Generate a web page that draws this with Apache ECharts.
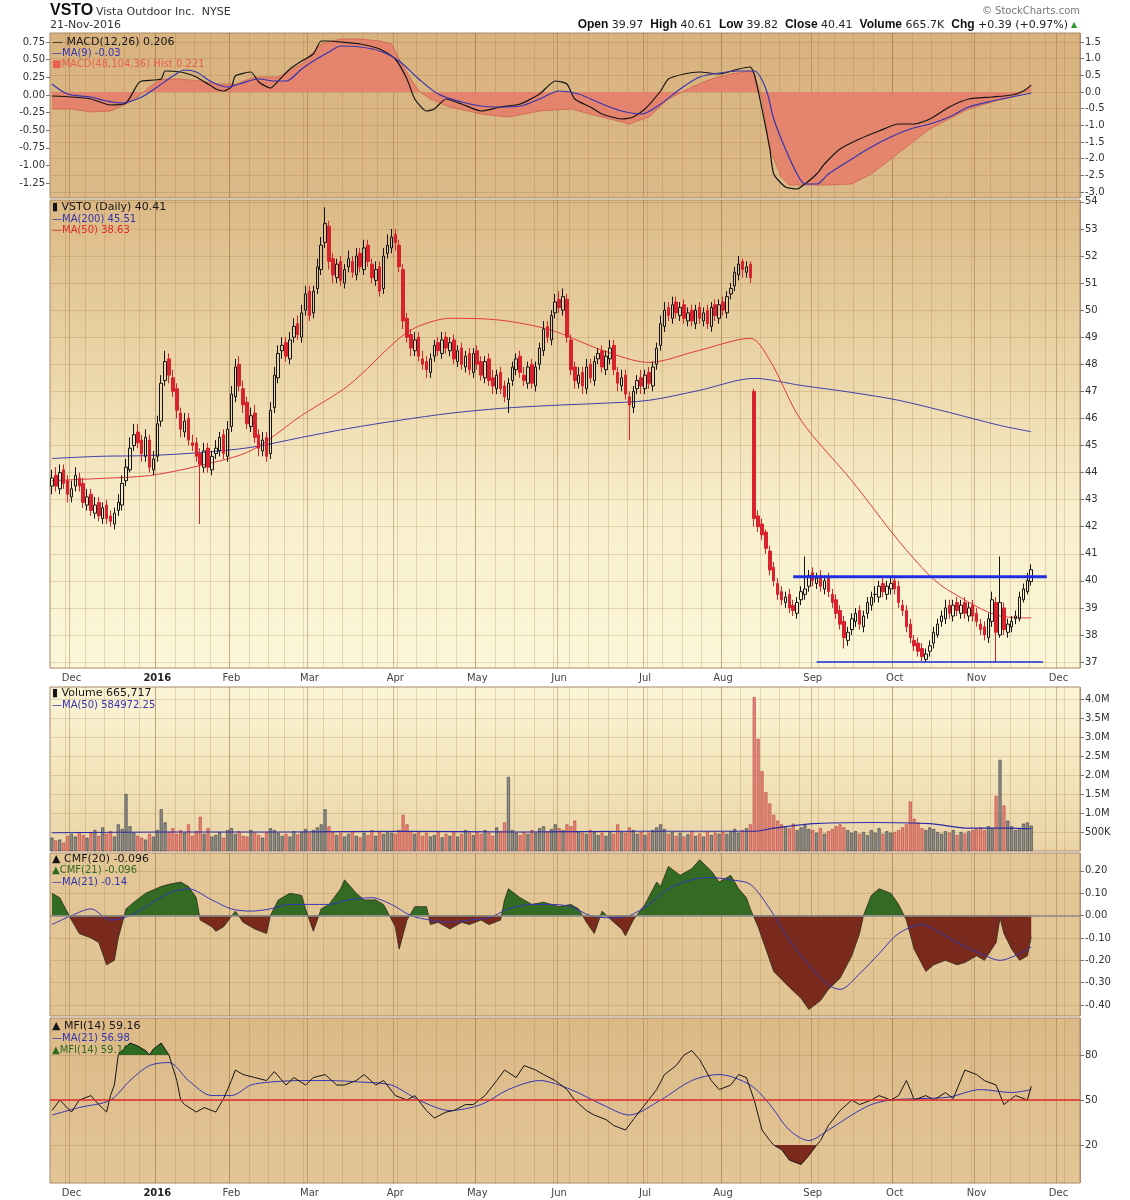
<!DOCTYPE html>
<html>
<head>
<meta charset="utf-8">
<script src="https://cdn.jsdelivr.net/npm/echarts@6/dist/echarts.min.js"></script>
<style>
  html, body { margin: 0; background: #fff; }
  #chart { width: 1130px; height: 1200px; }
</style>
</head>
<body>
<div id="chart"></div>
<script>
// ---- trading calendar (Nov 23 2015 .. Dec 8 2016, 12 empty slots after the last bar)
const holidays = ['2015-11-26', '2015-12-25', '2016-01-01', '2016-01-18', '2016-02-15',
  '2016-03-25', '2016-05-30', '2016-07-04', '2016-09-05', '2016-11-24'];
const monthNames = ['Jan', 'Feb', 'Mar', 'Apr', 'May', 'Jun', 'Jul', 'Aug', 'Sep', 'Oct', 'Nov', 'Dec'];

// ---- daily bars, one line per month (Nov-15 .. Nov-16)
const opens = [
  43.5, 43.9, 43.4, 44.1, 43.7,
  43.1, 43.5, 43.8, 43.6, 42.8, 43.2, 42.5, 42.9, 42.3, 42.8, 42.4, 42.1, 42.6, 42.8, 43.7, 44.1, 45.0, 45.5, 45.2, 44.6, 45.2, 44.1,
  44.6, 45.9, 47.4, 48.2, 47.5, 47.1, 46.2, 45.5, 46.0, 45.1, 45.1, 44.7, 44.2, 44.9, 44.1, 44.7, 44.8, 45.4, 44.6,
  45.7, 46.8, 48.0, 47.1, 46.6, 45.7, 46.2, 45.4, 44.8, 45.3, 44.7, 46.4, 47.5, 48.5, 48.8, 48.2, 49.0, 49.5, 49.0, 50.0,
  50.7, 49.9, 50.8, 51.5, 52.5, 53.1, 51.9, 51.2, 51.8, 51.0, 51.6, 51.8, 51.3, 52.1, 51.5, 52.4, 51.7, 51.1, 51.6, 50.8, 52.1, 52.3,
  52.8, 52.4, 51.5, 49.7, 49.1, 48.5, 49.0, 48.2, 48.1, 47.7, 48.3, 48.8, 48.4, 49.0, 48.5, 48.9, 48.1, 48.6, 47.9, 48.4, 47.7,
  48.5, 48.1, 47.5, 48.2, 47.5, 47.1, 47.7, 47.2, 46.7, 47.4, 47.8, 48.3, 47.6, 47.3, 48.0, 47.2, 48.0, 48.5, 49.4, 48.9, 49.9,
  50.4, 50.0, 50.4, 48.9, 47.9, 47.3, 47.7, 47.1, 48.0, 47.4, 48.2, 48.5, 47.8, 48.2, 48.7, 47.7, 47.2, 47.6, 46.8, 46.4, 47.1, 47.5,
  47.1, 47.7, 47.2, 48.0, 48.7, 49.4, 50.1, 49.7, 50.3, 49.8, 50.2, 49.6, 50.0, 49.5, 50.1, 49.6, 50.0, 49.4, 50.2, 49.7,
  50.3, 49.9, 50.6, 50.9, 51.3, 51.8, 51.4, 51.7, 47.0, 42.4, 42.1, 41.8, 41.1, 40.5, 39.9, 39.6, 39.2, 39.5, 39.1, 38.8, 39.3, 39.5, 39.8,
  40.3, 39.9, 40.2, 39.7, 40.1, 39.5, 39.3, 38.9, 38.5, 37.8, 38.2, 38.5, 38.9, 38.3, 38.8, 39.1, 39.5, 39.4, 39.9, 39.5, 39.7,
  40.0, 39.8, 39.1, 38.9, 38.4, 37.8, 37.7, 37.5, 37.1, 37.4, 37.7, 38.0, 38.5, 38.6, 39.1, 38.7, 39.2, 38.8, 39.2, 38.7, 39.1,
  38.8, 38.4, 38.3, 37.9, 38.5, 39.2, 38.0, 39.0, 38.1, 38.3, 38.6, 38.6, 39.3, 39.6, 39.97
];
const closes = [
  43.8, 43.5, 44.0, 43.6, 43.2,
  43.4, 43.9, 43.5, 42.9, 43.1, 42.6, 42.8, 42.4, 42.7, 42.3, 42.2, 42.5, 42.9, 43.6, 44.2, 44.9, 45.4, 45.1, 44.7, 45.3, 44.2, 44.5,
  45.8, 47.3, 48.1, 47.6, 47.0, 46.3, 45.6, 45.9, 45.2, 45.0, 44.6, 44.3, 44.8, 44.2, 44.6, 44.9, 45.3, 44.7, 45.6,
  46.9, 47.9, 47.2, 46.5, 45.8, 46.1, 45.3, 44.9, 45.2, 44.6, 46.3, 47.6, 48.4, 48.7, 48.3, 48.9, 49.4, 49.1, 49.9, 50.6,
  49.8, 50.7, 51.6, 52.4, 53.2, 51.8, 51.3, 51.7, 51.1, 51.5, 51.9, 51.4, 52.0, 51.6, 52.3, 51.8, 51.2, 51.5, 50.7, 52.0, 52.4, 52.7,
  52.5, 51.6, 49.6, 49.0, 48.6, 48.9, 48.3, 48.0, 47.8, 48.2, 48.7, 48.5, 48.9, 48.6, 48.8, 48.2, 48.5, 48.0, 48.3, 47.8, 48.4,
  48.0, 47.6, 48.1, 47.4, 47.2, 47.6, 47.1, 46.8, 47.3, 47.9, 48.2, 47.7, 47.4, 47.9, 47.3, 47.9, 48.6, 49.3, 49.0, 49.8, 50.3,
  50.1, 50.5, 49.0, 47.8, 47.4, 47.6, 47.2, 47.9, 47.5, 48.1, 48.4, 47.9, 48.3, 48.6, 47.8, 47.3, 47.5, 46.9, 46.5, 47.0, 47.4, 47.2,
  47.6, 47.3, 47.9, 48.6, 49.5, 50.0, 49.8, 50.2, 49.9, 50.1, 49.7, 49.9, 49.6, 50.0, 49.7, 49.9, 49.5, 50.1, 49.8, 50.2,
  50.0, 50.5, 50.8, 51.4, 51.7, 51.5, 51.6, 51.2, 42.3, 42.0, 41.7, 41.2, 40.4, 40.0, 39.5, 39.3, 39.4, 39.0, 38.9, 39.2, 39.6, 39.7, 40.2,
  40.0, 40.1, 39.8, 40.0, 39.6, 39.2, 38.8, 38.4, 37.9, 38.1, 38.6, 38.8, 38.4, 38.7, 39.2, 39.4, 39.5, 39.8, 39.6, 39.8, 39.9,
  39.7, 39.2, 38.9, 38.3, 37.9, 37.6, 37.4, 37.2, 37.3, 37.6, 38.1, 38.4, 38.7, 39.0, 38.8, 39.1, 38.9, 39.1, 38.8, 39.0, 38.7,
  38.5, 38.2, 38.0, 38.6, 39.3, 38.1, 39.2, 38.2, 38.4, 38.5, 38.7, 39.4, 39.7, 40.02, 40.41
];
const highs = [
  44.1, 44.2, 44.3, 44.3, 43.9,
  43.7, 44.2, 44.0, 43.8, 43.4, 43.4, 43.1, 43.1, 42.9, 43.0, 42.6, 42.7, 43.2, 43.9, 44.5, 45.3, 45.8, 45.8, 45.4, 45.6, 45.4, 44.8,
  46.1, 47.6, 48.5, 48.4, 47.8, 47.3, 46.4, 46.2, 46.2, 45.4, 45.3, 44.9, 45.1, 45.1, 44.8, 45.2, 45.5, 45.6, 45.9,
  47.2, 48.2, 48.3, 47.4, 46.8, 46.4, 46.5, 45.6, 45.5, 45.5, 46.6, 47.9, 48.7, 49.0, 49.0, 49.2, 49.7, 49.8, 50.2, 50.9,
  50.9, 50.9, 51.9, 52.7, 53.8, 53.3, 52.1, 51.9, 52.0, 51.7, 52.2, 52.0, 52.3, 52.3, 52.6, 52.6, 51.9, 51.8, 51.8, 52.3, 52.8, 53.0,
  53.0, 52.6, 51.7, 49.9, 49.3, 49.2, 49.2, 48.5, 48.3, 48.4, 48.9, 49.0, 49.2, 49.2, 49.0, 49.1, 48.7, 48.8, 48.5, 48.6, 48.6,
  48.7, 48.3, 48.3, 48.4, 47.8, 47.8, 47.9, 47.4, 47.5, 48.1, 48.4, 48.5, 47.9, 48.1, 48.2, 48.1, 48.8, 49.6, 49.6, 50.0, 50.6,
  50.7, 50.8, 50.6, 49.1, 48.1, 47.9, 47.9, 48.2, 48.2, 48.3, 48.6, 48.7, 48.5, 48.9, 48.9, 47.9, 47.8, 47.8, 47.0, 47.2, 47.6, 47.8,
  47.8, 47.9, 48.1, 48.8, 49.8, 50.3, 50.3, 50.5, 50.5, 50.3, 50.4, 50.1, 50.2, 50.2, 50.3, 50.1, 50.2, 50.3, 50.4, 50.4,
  50.5, 50.7, 51.0, 51.6, 52.0, 51.9, 51.8, 51.8, 47.1, 42.6, 42.3, 41.9, 41.3, 40.7, 40.1, 39.8, 39.6, 39.7, 39.3, 39.4, 39.8, 40.9, 40.4,
  40.5, 40.3, 40.4, 40.2, 40.3, 39.7, 39.5, 39.1, 38.7, 38.3, 38.8, 39.0, 39.1, 38.9, 39.4, 39.6, 39.8, 40.0, 40.1, 40.0, 40.1,
  40.2, 40.0, 39.3, 39.1, 38.6, 38.0, 37.9, 37.7, 37.5, 37.8, 38.3, 38.6, 38.9, 39.3, 39.3, 39.3, 39.4, 39.3, 39.4, 39.2, 39.3,
  39.0, 38.6, 38.5, 38.8, 39.6, 39.4, 40.9, 39.2, 38.6, 38.7, 38.9, 39.6, 39.9, 40.3, 40.61
];
const lows = [
  43.2, 43.3, 43.2, 43.4, 42.9,
  42.9, 43.3, 43.3, 42.7, 42.6, 42.4, 42.3, 42.2, 42.1, 42.1, 42.0, 41.9, 42.4, 42.6, 43.5, 44.0, 44.8, 44.9, 44.4, 44.4, 44.0, 43.9,
  44.4, 45.7, 47.2, 47.3, 46.8, 46.0, 45.3, 45.3, 45.0, 44.8, 44.4, 42.1, 44.0, 44.0, 43.9, 44.5, 44.6, 44.5, 44.4,
  45.5, 46.6, 47.0, 46.2, 45.6, 45.5, 45.1, 44.6, 44.6, 44.4, 44.5, 46.2, 47.3, 48.2, 48.1, 48.0, 48.8, 48.9, 48.8, 49.8,
  49.6, 49.7, 50.6, 51.3, 52.3, 51.5, 51.0, 51.0, 50.9, 50.8, 51.4, 51.2, 51.1, 51.4, 51.3, 51.6, 51.0, 50.9, 50.5, 50.6, 51.9, 52.1,
  52.2, 51.4, 49.3, 48.8, 48.3, 48.3, 48.1, 47.8, 47.5, 47.5, 48.1, 48.3, 48.2, 48.4, 48.3, 48.0, 47.9, 47.8, 47.7, 47.6, 47.5,
  47.8, 47.4, 47.3, 47.2, 46.9, 46.9, 46.9, 46.6, 46.2, 47.2, 47.6, 47.5, 47.2, 47.1, 47.1, 47.0, 47.8, 48.3, 48.8, 48.7, 49.7,
  49.9, 49.8, 48.8, 47.6, 47.1, 47.1, 46.9, 46.9, 47.3, 47.2, 48.0, 47.7, 47.6, 48.0, 47.6, 47.0, 47.0, 46.7, 45.2, 46.2, 46.9, 46.9,
  46.9, 47.1, 47.0, 47.8, 48.5, 49.2, 49.6, 49.5, 49.7, 49.6, 49.5, 49.4, 49.4, 49.3, 49.5, 49.4, 49.3, 49.2, 49.6, 49.5,
  49.8, 49.7, 50.4, 50.7, 51.1, 51.2, 51.2, 51.0, 42.0, 41.8, 41.5, 41.0, 40.2, 39.8, 39.3, 39.1, 39.0, 38.8, 38.7, 38.6, 39.1, 39.3, 39.6,
  39.8, 39.7, 39.6, 39.5, 39.4, 39.0, 38.6, 38.2, 37.5, 37.6, 38.0, 38.3, 38.2, 38.1, 38.6, 38.9, 39.2, 39.2, 39.4, 39.3, 39.5,
  39.5, 39.0, 38.7, 38.1, 37.7, 37.4, 37.2, 37.0, 37.0, 37.2, 37.5, 37.9, 38.3, 38.4, 38.6, 38.5, 38.7, 38.6, 38.6, 38.5, 38.5,
  38.3, 38.0, 37.8, 37.7, 38.3, 37.0, 37.9, 38.0, 37.9, 38.1, 38.4, 38.5, 39.2, 39.5, 39.82
];
// volume in millions of shares
const volumes = [
  0.35, 0.28, 0.30, 0.22, 0.40,
  0.45, 0.38, 0.50, 0.42, 0.35, 0.48, 0.55, 0.40, 0.62, 0.45, 0.52, 0.38, 0.70, 0.58, 1.50, 0.65, 0.48, 0.40, 0.35, 0.30, 0.45, 0.38,
  0.55, 1.10, 0.75, 0.50, 0.60, 0.45, 0.55, 0.48, 0.70, 0.40, 0.52, 0.90, 0.45, 0.60, 0.38, 0.42, 0.50, 0.35, 0.55,
  0.60, 0.45, 0.52, 0.40, 0.38, 0.55, 0.48, 0.42, 0.35, 0.50, 0.60, 0.55, 0.48, 0.40, 0.45, 0.38, 0.52, 0.44, 0.50, 0.58,
  0.48, 0.55, 0.62, 0.70, 1.10, 0.65, 0.50, 0.42, 0.48, 0.38, 0.45, 0.52, 0.40, 0.36, 0.48, 0.42, 0.55, 0.40, 0.50, 0.45, 0.52, 0.48,
  0.45, 0.55, 0.95, 0.70, 0.52, 0.45, 0.50, 0.40, 0.48, 0.38, 0.42, 0.50, 0.36, 0.45, 0.40, 0.52, 0.38, 0.45, 0.55, 0.48, 0.42,
  0.50, 0.45, 0.55, 0.48, 0.40, 0.62, 0.52, 0.75, 1.95, 0.55, 0.48, 0.42, 0.50, 0.45, 0.55, 0.48, 0.60, 0.65, 0.52, 0.58, 0.70,
  0.60, 0.55, 0.70, 0.65, 0.80, 0.52, 0.48, 0.45, 0.55, 0.50, 0.42, 0.48, 0.40, 0.52, 0.45, 0.70, 0.50, 0.48, 0.62, 0.55, 0.45, 0.50,
  0.42, 0.48, 0.55, 0.62, 0.70, 0.58, 0.45, 0.50, 0.40, 0.48, 0.38, 0.44, 0.52, 0.40, 0.46, 0.38, 0.50, 0.42, 0.48, 0.45,
  0.50, 0.45, 0.52, 0.58, 0.48, 0.55, 0.60, 0.70, 4.05, 2.95, 2.10, 1.55, 1.25, 0.95, 0.80, 0.70, 0.65, 0.60, 0.72, 0.55, 0.62, 0.68, 0.58,
  0.55, 0.48, 0.60, 0.45, 0.52, 0.58, 0.65, 0.70, 0.62, 0.55, 0.48, 0.52, 0.45, 0.50, 0.42, 0.55, 0.48, 0.60, 0.45, 0.52, 0.48,
  0.50, 0.55, 0.62, 0.70, 1.30, 0.85, 0.75, 0.60, 0.55, 0.62, 0.58, 0.50, 0.45, 0.52, 0.48, 0.55, 0.42, 0.50, 0.46, 0.52, 0.55,
  0.58, 0.62, 0.55, 0.65, 0.60, 1.45, 2.40, 1.20, 0.80, 0.65, 0.55, 0.60, 0.72, 0.75, 0.666
];

// ---- overlays and indicators: [bar index, value]
const ma200 = [[0, 44.52], [12, 44.6], [25, 44.63], [38, 44.74], [51, 44.93], [64, 45.3], [76, 45.63], [89, 45.93],
  [102, 46.19], [115, 46.37], [128, 46.48], [141, 46.56], [153, 46.67], [166, 47.04], [180, 47.48], [192, 47.22],
  [205, 46.96], [217, 46.67], [230, 46.22], [243, 45.74], [251, 45.51]];
const ma50 = [[0, 43.7], [12, 43.78], [25, 43.89], [38, 44.26], [51, 44.81], [64, 46.11], [76, 47.22], [89, 48.96],
  [94, 49.41], [102, 49.7], [115, 49.63], [128, 49.26], [141, 48.52], [153, 48.07], [166, 48.52], [179, 48.96],
  [184, 48.15], [192, 45.93], [205, 43.7], [217, 41.48], [225, 40.19], [230, 39.63], [243, 38.7], [251, 38.63]];
const resistanceLine = [[190, 40.15], [255, 40.15]];
const supportLine = [[196, 37.0], [254, 37.0]];

const macdLine = [[0, -0.12], [5, -0.15], [10, -0.21], [15, -0.39], [19, -0.33], [22, 0.24], [23, 0.33], [28, 0.39],
  [29, 0.63], [33, 0.6], [35, 0.54], [37, 0.45], [40, 0.24], [42, 0.09], [44, 0.03], [46, 0.15], [47, 0.48], [51, 0.6],
  [53, 0.3], [56, 0.12], [58, 0.33], [61, 0.69], [64, 0.93], [67, 1.14], [69, 1.53], [71, 1.53], [74, 1.5], [79, 1.44],
  [84, 1.29], [88, 0.99], [91, 0.39], [93, -0.21], [96, -0.57], [98, -0.51], [101, -0.21], [105, -0.36], [110, -0.57],
  [115, -0.45], [120, -0.36], [125, -0.06], [129, 0.33], [132, 0.24], [134, -0.21], [138, -0.45], [141, -0.66],
  [146, -0.81], [149, -0.75], [152, -0.51], [156, 0.03], [158, 0.39], [162, 0.54], [166, 0.6], [171, 0.54], [176, 0.69],
  [179, 0.75], [180, 0.54], [182, -0.51], [184, -1.71], [185, -2.46], [188, -2.85], [191, -2.91], [193, -2.76],
  [196, -2.46], [198, -2.16], [202, -1.71], [207, -1.41], [212, -1.17], [217, -0.96], [221, -0.96], [225, -0.81],
  [230, -0.45], [235, -0.21], [241, -0.15], [246, -0.09], [249, 0.03], [251, 0.206]];
const macdSignal = [[0, 0.24], [4, -0.06], [10, -0.15], [14, -0.27], [18, -0.33], [23, -0.15], [27, 0.15], [31, 0.48],
  [34, 0.66], [37, 0.6], [41, 0.3], [45, 0.15], [48, 0.24], [53, 0.39], [57, 0.33], [60, 0.33], [64, 0.69], [67, 0.93],
  [71, 1.2], [74, 1.38], [79, 1.35], [84, 1.23], [89, 0.93], [94, 0.39], [99, -0.06], [105, -0.3], [110, -0.42],
  [115, -0.45], [120, -0.42], [125, -0.21], [130, 0.03], [135, -0.06], [141, -0.36], [146, -0.57], [151, -0.66],
  [156, -0.36], [161, 0.09], [166, 0.45], [171, 0.57], [176, 0.63], [180, 0.63], [183, 0.09], [185, -0.81],
  [188, -1.71], [191, -2.46], [193, -2.76], [196, -2.76], [199, -2.46], [205, -2.01], [210, -1.65], [215, -1.35],
  [220, -1.11], [225, -0.96], [230, -0.75], [235, -0.45], [241, -0.27], [246, -0.15], [251, -0.03]];
const macdHist = [[0, -0.51], [5, -0.51], [10, -0.6], [15, -0.57], [19, -0.36], [23, -0.06], [25, 0.15], [28, 0.39],
  [33, 0.39], [38, 0.33], [42, 0.24], [47, 0.24], [52, 0.45], [58, 0.45], [64, 0.84], [69, 1.44], [74, 1.59],
  [79, 1.59], [84, 1.53], [87, 1.44], [89, 0.99], [92, 0.39], [94, 0.03], [97, -0.21], [102, -0.45], [110, -0.66],
  [117, -0.75], [125, -0.57], [133, -0.51], [141, -0.75], [148, -0.96], [153, -0.75], [158, -0.21], [164, 0.15],
  [169, 0.39], [174, 0.54], [179, 0.63], [180, 0.54], [182, -0.21], [184, -1.71], [187, -2.55], [189, -2.79],
  [199, -2.79], [205, -2.76], [210, -2.46], [215, -2.01], [220, -1.56], [225, -1.11], [230, -0.81], [235, -0.51],
  [241, -0.3], [246, -0.15], [249, 0.0], [251, 0.221]];

const volumeMA = [[0, 0.48], [30, 0.5], [60, 0.5], [90, 0.52], [120, 0.5], [150, 0.52], [180, 0.52], [185, 0.6],
  [195, 0.72], [210, 0.75], [225, 0.72], [235, 0.6], [245, 0.6], [251, 0.585]];

const cmf = [[0, 0.10], [2, 0.08], [5, -0.02], [7, -0.08], [10, -0.10], [12, -0.12], [14, -0.22], [16, -0.20],
  [17, -0.10], [19, 0.03], [21, 0.06], [24, 0.10], [28, 0.13], [30, 0.14], [33, 0.15], [35, 0.13], [37, 0.08],
  [38, -0.02], [41, -0.05], [42, -0.07], [44, -0.05], [47, 0.02], [49, -0.03], [52, -0.06], [55, -0.08], [56, 0.0],
  [58, 0.07], [61, 0.10], [64, 0.09], [65, 0.03], [67, -0.07], [69, 0.03], [71, 0.05], [74, 0.12], [75, 0.16],
  [78, 0.10], [80, 0.07], [83, 0.07], [85, 0.05], [88, -0.05], [89, -0.15], [91, -0.02], [93, 0.04], [96, 0.04],
  [97, -0.04], [99, -0.03], [102, -0.06], [105, -0.03], [107, -0.04], [110, -0.02], [112, -0.04], [115, -0.02],
  [116, 0.07], [117, 0.12], [120, 0.08], [123, 0.05], [126, 0.06], [130, 0.04], [133, 0.05], [135, 0.03],
  [137, -0.03], [139, -0.08], [141, 0.02], [144, -0.03], [146, -0.06], [147, -0.09], [149, -0.02], [152, 0.05],
  [155, 0.15], [156, 0.13], [158, 0.22], [161, 0.18], [164, 0.21], [166, 0.25], [169, 0.20], [171, 0.15],
  [174, 0.18], [176, 0.12], [178, 0.08], [179, 0.03], [181, -0.05], [183, -0.15], [185, -0.25], [189, -0.32],
  [192, -0.37], [194, -0.42], [197, -0.38], [199, -0.33], [202, -0.28], [205, -0.18], [207, -0.08], [208, 0.0],
  [210, 0.09], [212, 0.12], [215, 0.10], [217, 0.05], [219, -0.02], [221, -0.15], [224, -0.25], [226, -0.22],
  [229, -0.20], [232, -0.22], [234, -0.21], [237, -0.18], [239, -0.20], [242, -0.12], [243, -0.01], [244, -0.08],
  [246, -0.15], [248, -0.20], [250, -0.18], [251, -0.096]];
const cmfMA = [[0, -0.04], [5, 0.0], [10, 0.03], [15, -0.02], [20, 0.0], [25, 0.05], [30, 0.10], [35, 0.12],
  [41, 0.07], [46, 0.03], [51, 0.02], [56, 0.03], [61, 0.05], [66, 0.05], [71, 0.05], [76, 0.07], [82, 0.08],
  [87, 0.05], [92, 0.0], [97, -0.02], [102, -0.03], [107, -0.02], [112, -0.01], [117, 0.03], [123, 0.05],
  [128, 0.05], [133, 0.04], [138, 0.0], [143, -0.01], [148, 0.0], [153, 0.05], [158, 0.12], [164, 0.16],
  [169, 0.17], [174, 0.16], [179, 0.14], [184, 0.03], [189, -0.11], [194, -0.22], [199, -0.31], [202, -0.33],
  [207, -0.26], [212, -0.17], [217, -0.08], [223, -0.04], [228, -0.08], [233, -0.13], [238, -0.17], [243, -0.2],
  [248, -0.17], [251, -0.14]];

const mfi = [[0, 43], [2, 50], [5, 42], [7, 50], [10, 53], [12, 47], [14, 42], [15, 53], [16, 60], [17, 80],
  [18, 83], [20, 88], [22, 86], [24, 83], [25, 80], [26, 84], [28, 88], [29, 84], [30, 80], [32, 63], [33, 50],
  [34, 47], [37, 42], [39, 45], [42, 42], [44, 51], [46, 63], [47, 70], [49, 67], [52, 65], [55, 63], [57, 69],
  [60, 60], [62, 65], [65, 60], [67, 65], [70, 67], [73, 60], [75, 60], [78, 63], [80, 67], [83, 60], [85, 63],
  [88, 53], [91, 50], [93, 53], [96, 43], [98, 38], [101, 42], [103, 43], [106, 47], [108, 47], [111, 53],
  [114, 63], [116, 70], [119, 65], [121, 73], [124, 70], [126, 67], [129, 63], [132, 57], [134, 50], [137, 43],
  [139, 40], [142, 37], [144, 33], [147, 30], [149, 37], [152, 47], [155, 57], [157, 67], [160, 73], [162, 80],
  [164, 83], [166, 77], [169, 63], [171, 57], [174, 60], [176, 67], [178, 65], [180, 50], [182, 30], [184, 23],
  [185, 20], [187, 17], [189, 10], [192, 7], [194, 13], [196, 20], [197, 23], [199, 33], [202, 43], [205, 50],
  [207, 47], [210, 50], [212, 53], [215, 50], [217, 53], [219, 63], [220, 57], [221, 50], [224, 53], [226, 50],
  [229, 55], [231, 51], [234, 70], [237, 67], [239, 63], [242, 60], [244, 47], [247, 53], [250, 50], [251, 59.16]];
const mfiOverbought = [[17, 80], [18, 83], [20, 88], [22, 86], [24, 83], [25, 80], [26, 84], [28, 88], [29, 84], [30, 80]];
const mfiOversold = [[185, 20], [187, 17], [189, 10], [192, 7], [194, 13], [196, 20]];
const mfiMA = [[0, 40], [7, 45], [15, 50], [20, 63], [25, 73], [30, 75], [35, 63], [41, 53], [46, 53], [51, 60],
  [56, 62], [64, 63], [71, 63], [79, 62], [87, 60], [94, 50], [102, 43], [110, 47], [117, 57], [125, 63],
  [133, 57], [141, 47], [148, 40], [156, 50], [164, 63], [171, 67], [179, 60], [184, 47], [189, 30], [194, 23],
  [199, 30], [205, 40], [210, 47], [215, 50], [223, 51], [230, 52], [238, 57], [246, 55], [251, 56.98]];

// ---- axis tick labels
const macdTicks = [-3, -2.5, -2, -1.5, -1, -0.5, 0, 0.5, 1, 1.5];
const macdLeftTicks = [-1.25, -1, -0.75, -0.5, -0.25, 0, 0.25, 0.5, 0.75];
const priceTicks = [37, 38, 39, 40, 41, 42, 43, 44, 45, 46, 47, 48, 49, 50, 51, 52, 53, 54];
const volumeTicks = [0.5, 1, 1.5, 2, 2.5, 3, 3.5, 4];
const cmfTicks = [-0.4, -0.3, -0.2, -0.1, 0, 0.1, 0.2];
const mfiTicks = [20, 50, 80];

// ---------------------------------------------------------------------------
const days = [];
for (let t = Date.UTC(2015, 10, 23); t <= Date.UTC(2016, 11, 8); t += 86400000) {
  const d = new Date(t);
  const s = d.toISOString().slice(0, 10);
  if (d.getUTCDay() === 0 || d.getUTCDay() === 6 || holidays.indexOf(s) >= 0) continue;
  days.push(s);
}
const monthStart = days.map((s, i) => i > 0 && s.slice(5, 7) !== days[i - 1].slice(5, 7));
const weekStart = days.map((s, i) => i > 0 && new Date(s).getUTCDay() < new Date(days[i - 1]).getUTCDay());

const FONT = '"DejaVu Sans", sans-serif';
const RED = '#d8222e';
const BLACK = '#141414';
const GRID_LINE = 'rgba(150,105,55,0.22)';

function monthLabel(value) {
  const m = +value.slice(5, 7) - 1;
  return m === 0 ? '{y|' + value.slice(0, 4) + '}' : monthNames[m];
}

function xAxesFor(g, showLabels) {
  return [{
    type: 'category', gridIndex: g, data: days, position: 'bottom',
    axisLine: { show: false }, axisTick: { show: false },
    axisLabel: {
      show: showLabels, interval: (i) => monthStart[i], formatter: monthLabel,
      fontFamily: FONT, fontSize: 10, color: '#444', margin: 5,
      rich: { y: { fontFamily: FONT, fontSize: 10, fontWeight: 'bold', color: '#222' } }
    },
    splitLine: { show: true, interval: (i) => weekStart[i], lineStyle: { color: GRID_LINE, width: 1 } }
  }, {
    type: 'category', gridIndex: g, data: days, position: 'top',
    axisLine: { show: false }, axisTick: { show: false }, axisLabel: { show: false },
    splitLine: { show: true, interval: (i) => monthStart[i], lineStyle: { color: 'rgba(130,85,40,0.35)', width: 1 } }
  }];
}

function yAxisFor(g, min, max, ticks, fmt, extra) {
  return Object.assign({
    type: 'value', gridIndex: g, position: 'right', min: min, max: max,
    axisLine: { show: false },
    axisTick: { show: true, customValues: ticks, length: 4, lineStyle: { color: '#777' } },
    axisLabel: { customValues: ticks, formatter: fmt, fontFamily: FONT, fontSize: 10, color: '#333', margin: 5 },
    splitLine: { show: true, lineStyle: { color: GRID_LINE } }
  }, extra || {});
}

function panelBg(stops) {
  return { type: 'linear', x: 0, y: 0, x2: 0, y2: 1, colorStops: stops.map((c, k) => ({ offset: k / (stops.length - 1), color: c })) };
}

// candle and volume colours follow the close-to-close direction
const candleData = closes.map((c, i) => {
  const prev = i > 0 ? closes[i - 1] : opens[i];
  const col = c < prev ? RED : BLACK;
  const fill = c < opens[i] ? col : 'rgba(0,0,0,0)';
  return {
    value: [opens[i], c, lows[i], highs[i]],
    itemStyle: { color: fill, color0: fill, borderColor: col, borderColor0: col, borderColorDoji: col, borderWidth: 1 }
  };
});
const volumeData = volumes.map((v, i) => {
  const down = i > 0 && closes[i] < closes[i - 1];
  return {
    value: v,
    itemStyle: down ? { color: '#e9857b', borderColor: '#b0403a', borderWidth: 0.6 }
                    : { color: '#8e8e8e', borderColor: '#3a3a3a', borderWidth: 0.6 }
  };
});

function legend(x, y, text, color, size) {
  return { type: 'text', z: 100, x: x, y: y,
    style: { text: text, fill: color, font: (size || 10) + 'px ' + FONT, verticalAlign: 'middle' } };
}

const chart = echarts.init(document.getElementById('chart'), null, { renderer: 'canvas' });

const grids = [
  { top: 33, height: 165, bg: ['#d8b37f', '#dcb988'] },
  { top: 200, height: 468, bg: ['#dbb985', '#ead3a5', '#f8efcc', '#fbf7d8'] },
  { top: 687, height: 164, bg: ['#fbf5d6', '#f3e6bd', '#e9d3a6'] },
  { top: 853, height: 163, bg: ['#e4c797', '#e2c493'] },
  { top: 1018, height: 165, bg: ['#dcb987', '#e3c596'] }
];

// CMF fill: green above zero, brown below (hard stop at the zero line of the panel)
const CMF_MIN = -0.449, CMF_MAX = 0.28;
const cmfZero = CMF_MAX / (CMF_MAX - CMF_MIN);
const cmfFill = {
  type: 'linear', global: true, x: 0, y: grids[3].top, x2: 0, y2: grids[3].top + grids[3].height,
  colorStops: [
    { offset: 0, color: '#336b25' }, { offset: cmfZero, color: '#336b25' },
    { offset: cmfZero, color: '#7a2a1c' }, { offset: 1, color: '#7a2a1c' }
  ]
};

chart.setOption({
  animation: false,
  backgroundColor: '#ffffff',
  grid: grids.map((g) => ({
    left: 50, width: 1030, top: g.top, height: g.height, show: true,
    backgroundColor: panelBg(g.bg), borderColor: '#a98866', borderWidth: 1
  })),
  xAxis: [].concat(xAxesFor(0, false), xAxesFor(1, true), xAxesFor(2, false), xAxesFor(3, false), xAxesFor(4, true)),
  yAxis: [
    yAxisFor(0, -3.18, 1.77, macdTicks, (v) => v.toFixed(1)),
    yAxisFor(0, -1.46, 0.878, macdLeftTicks, (v) => v.toFixed(2), { position: 'left', splitLine: { show: false } }),
    yAxisFor(1, 36.78, 54.07, priceTicks, (v) => String(v)),
    yAxisFor(2, 0, 4.316, volumeTicks, (v) => v >= 1 ? v.toFixed(1) + 'M' : Math.round(v * 1000) + 'K'),
    yAxisFor(3, CMF_MIN, CMF_MAX, cmfTicks, (v) => v.toFixed(2)),
    yAxisFor(4, -5.3, 104.7, mfiTicks, (v) => String(v))
  ],
  series: [
    // MACD panel
    { type: 'line', xAxisIndex: 0, yAxisIndex: 0, data: macdHist, showSymbol: false, z: 1,
      lineStyle: { color: '#c9523f', width: 0.6 }, areaStyle: { color: '#e5826b', opacity: 0.95 } },
    { type: 'line', xAxisIndex: 0, yAxisIndex: 0, data: macdLine, showSymbol: false, smooth: 0.2,
      lineStyle: { color: '#151515', width: 1.2 } },
    { type: 'line', xAxisIndex: 0, yAxisIndex: 0, data: macdSignal, showSymbol: false, smooth: 0.3,
      lineStyle: { color: '#3434b0', width: 1.2 } },
    // price panel
    { type: 'candlestick', xAxisIndex: 2, yAxisIndex: 2, data: candleData, barWidth: 3, z: 3 },
    { type: 'line', xAxisIndex: 2, yAxisIndex: 2, data: ma200, showSymbol: false, smooth: 0.3,
      lineStyle: { color: '#3f3fa8', width: 1 } },
    { type: 'line', xAxisIndex: 2, yAxisIndex: 2, data: ma50, showSymbol: false, smooth: 0.3,
      lineStyle: { color: '#e23a3a', width: 1 } },
    { type: 'line', xAxisIndex: 2, yAxisIndex: 2, data: resistanceLine, showSymbol: false,
      lineStyle: { color: '#1f2ee0', width: 3 }, z: 4 },
    { type: 'line', xAxisIndex: 2, yAxisIndex: 2, data: supportLine, showSymbol: false,
      lineStyle: { color: '#1f2ee0', width: 1.6 }, z: 4 },
    // volume panel
    { type: 'bar', xAxisIndex: 4, yAxisIndex: 3, data: volumeData, barWidth: 3 },
    { type: 'line', xAxisIndex: 4, yAxisIndex: 3, data: volumeMA, showSymbol: false, smooth: 0.3,
      lineStyle: { color: '#2b2ba8', width: 1.2 }, z: 4 },
    // CMF panel
    { type: 'line', xAxisIndex: 6, yAxisIndex: 4, data: cmf, showSymbol: false,
      lineStyle: { color: '#2a2a1a', width: 0.8 }, areaStyle: { color: cmfFill, opacity: 1 },
      markLine: { silent: true, symbol: 'none', label: { show: false },
        lineStyle: { color: '#8a8a8a', width: 1.5, type: 'solid' }, data: [{ yAxis: 0 }] } },
    { type: 'line', xAxisIndex: 6, yAxisIndex: 4, data: cmfMA, showSymbol: false, smooth: 0.3,
      lineStyle: { color: '#3535b5', width: 1 }, z: 4 },
    // MFI panel
    { type: 'line', xAxisIndex: 8, yAxisIndex: 5, data: mfiOverbought, showSymbol: false,
      lineStyle: { width: 0 }, areaStyle: { color: '#2f6a22', opacity: 1, origin: 80 } },
    { type: 'line', xAxisIndex: 8, yAxisIndex: 5, data: mfiOversold, showSymbol: false,
      lineStyle: { width: 0 }, areaStyle: { color: '#7b2a1c', opacity: 1, origin: 20 } },
    { type: 'line', xAxisIndex: 8, yAxisIndex: 5, data: mfi, showSymbol: false,
      lineStyle: { color: '#151515', width: 1 }, z: 4,
      markLine: { silent: true, symbol: 'none', label: { show: false },
        lineStyle: { color: '#e02a2a', width: 1.5, type: 'solid' }, data: [{ yAxis: 50 }] } },
    { type: 'line', xAxisIndex: 8, yAxisIndex: 5, data: mfiMA, showSymbol: false, smooth: 0.3,
      lineStyle: { color: '#3535b5', width: 1 }, z: 3 }
  ],
  graphic: [
    { type: 'text', z: 100, x: 50, y: 11, style: { text: 'VSTO', fill: '#111', font: 'bold 16px "Liberation Sans", sans-serif', verticalAlign: 'middle' } },
    { type: 'text', z: 100, x: 96, y: 12, style: { text: 'Vista Outdoor Inc.  NYSE', fill: '#333', font: '11px ' + FONT, verticalAlign: 'middle' } },
    { type: 'text', z: 100, x: 50, y: 25, style: { text: '21-Nov-2016', fill: '#333', font: '11px ' + FONT, verticalAlign: 'middle' } },
    { type: 'text', z: 100, x: 1080, y: 11, style: { text: '© StockCharts.com', fill: '#777', font: '10px ' + FONT, align: 'right', verticalAlign: 'middle' } },
    { type: 'text', z: 100, x: 1068, y: 25, style: {
        text: '{b|Open} 39.97  {b|High} 40.61  {b|Low} 39.82  {b|Close} 40.41  {b|Volume} 665.7K  {b|Chg} +0.39 (+0.97%)',
        fill: '#222', font: '11px ' + FONT, align: 'right', verticalAlign: 'middle',
        rich: { b: { fontFamily: '"Liberation Sans", sans-serif', fontWeight: 'bold', fontSize: 12, fill: '#111' } } } },
    { type: 'text', z: 100, x: 1071, y: 25, style: { text: '▲', fill: '#2a9a2a', font: '8px ' + FONT, verticalAlign: 'middle' } },

    legend(52, 42, '— MACD(12,26) 0.206', '#151515', 11),
    legend(52, 53, '—MA(9) -0.03', '#3434b0'),
    legend(52, 64, '■MACD(48,104,36) Hist 0.221', '#e8604a'),

    legend(52, 207, '▮ VSTO (Daily) 40.41', '#151515', 11),
    legend(52, 219, '—MA(200) 45.51', '#3434b0'),
    legend(52, 230, '—MA(50) 38.63', '#e02a2a'),

    legend(52, 693, '▮ Volume 665,717', '#151515', 11),
    legend(52, 705, '—MA(50) 584972.25', '#3434b0'),

    legend(52, 859, '▲ CMF(20) -0.096', '#151515', 11),
    legend(52, 870, '▲CMF(21) -0.096', '#2f6a22'),
    legend(52, 882, '—MA(21) -0.14', '#3434b0'),

    legend(52, 1026, '▲ MFI(14) 59.16', '#151515', 11),
    legend(52, 1038, '—MA(21) 56.98', '#3434b0'),
    legend(52, 1050, '▲MFI(14) 59.16', '#2f6a22')
  ]
});
</script>
</body>
</html>
